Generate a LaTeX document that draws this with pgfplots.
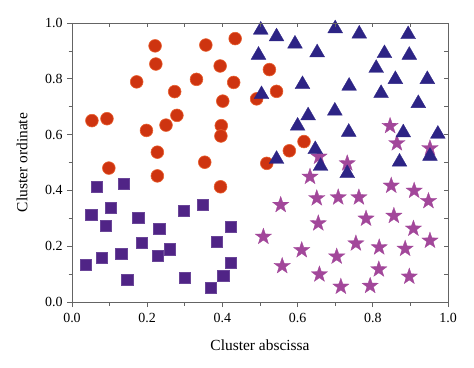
\documentclass[border=0pt]{standalone}
\usepackage{fontspec}
\setmainfont{Liberation Serif}
\usepackage{pgfplots}
\pgfplotsset{compat=1.18}
\definecolor{cred}{RGB}{206,52,16}
\definecolor{credrim}{RGB}{232,96,48}
\definecolor{ctri}{RGB}{45,36,133}
\definecolor{cstar}{RGB}{162,71,154}
\definecolor{csq}{RGB}{80,36,134}
\definecolor{caxis}{RGB}{100,100,100}
\pgfdeclareplotmark{fstar}{%
  \pgfpathmoveto{\pgfqpointpolar{90}{\pgfplotmarksize}}%
  \pgfpathlineto{\pgfqpointpolar{126}{0.40\pgfplotmarksize}}%
  \pgfpathlineto{\pgfqpointpolar{162}{\pgfplotmarksize}}%
  \pgfpathlineto{\pgfqpointpolar{198}{0.40\pgfplotmarksize}}%
  \pgfpathlineto{\pgfqpointpolar{234}{\pgfplotmarksize}}%
  \pgfpathlineto{\pgfqpointpolar{270}{0.40\pgfplotmarksize}}%
  \pgfpathlineto{\pgfqpointpolar{306}{\pgfplotmarksize}}%
  \pgfpathlineto{\pgfqpointpolar{342}{0.40\pgfplotmarksize}}%
  \pgfpathlineto{\pgfqpointpolar{18}{\pgfplotmarksize}}%
  \pgfpathlineto{\pgfqpointpolar{54}{0.40\pgfplotmarksize}}%
  \pgfpathclose
  \pgfusepathqfillstroke}
\begin{document}
\begin{tikzpicture}[x=1bp,y=1bp]
\useasboundingbox (-72,-65) rectangle (402,302);
\begin{axis}[
  at={(0,0)}, anchor=south west,
  scale only axis, width=376bp, height=279bp,
  xmin=0, xmax=1, ymin=0, ymax=1,
  xtick={0,0.2,...,1.0}, ytick={0,0.2,...,1.0},
  minor xtick={0.1,0.3,...,0.9}, minor ytick={0.1,0.3,...,0.9},
  xtick pos=bottom, ytick pos=left, tick align=outside,
  major tick length=5bp, minor tick length=3.5bp,
  axis line style={caxis, line width=0.9pt},
  every tick/.style={caxis, line width=0.8pt},
  xticklabel style={/pgf/number format/fixed, /pgf/number format/fixed zerofill, /pgf/number format/precision=1, font=\fontsize{14}{16}\selectfont, yshift=-3bp},
  yticklabel style={/pgf/number format/fixed, /pgf/number format/fixed zerofill, /pgf/number format/precision=1, font=\fontsize{14}{16}\selectfont, xshift=-1bp},
  /pgf/number format/assume math mode=true,
  xlabel={Cluster abscissa}, ylabel={Cluster ordinate},
  label style={font=\fontsize{15.5}{18}\selectfont},
  xlabel style={at={(axis description cs:0.5,-0.154)}, anchor=center},
  ylabel style={at={(axis description cs:-0.133,0.5)}, anchor=center},
  clip=false,
]
% squares
\addplot[only marks, mark=square*, mark size=5.6pt, mark options={fill=csq, draw=csq!85!white, line width=0.4pt}] coordinates {
(0.066,0.413) (0.137,0.425) (0.051,0.312) (0.102,0.338) (0.090,0.274)
(0.176,0.302) (0.296,0.327) (0.348,0.350) (0.232,0.263) (0.421,0.270)
(0.185,0.214) (0.384,0.216) (0.259,0.189) (0.131,0.173) (0.229,0.167)
(0.079,0.159) (0.036,0.133) (0.421,0.141) (0.147,0.079) (0.299,0.087)
(0.402,0.094) (0.368,0.051)
};
% circles
\addplot[only marks, mark=*, mark size=6.4pt, mark options={fill=cred, draw=credrim, line width=0.6pt}] coordinates {
(0.221,0.918) (0.356,0.921) (0.434,0.944) (0.223,0.853) (0.394,0.846)
(0.525,0.833) (0.172,0.789) (0.331,0.798) (0.430,0.787) (0.273,0.754)
(0.401,0.720) (0.491,0.728) (0.544,0.755) (0.053,0.650) (0.093,0.657)
(0.279,0.669) (0.198,0.615) (0.250,0.634) (0.397,0.632) (0.396,0.595)
(0.227,0.537) (0.098,0.480) (0.353,0.501) (0.227,0.452) (0.395,0.413)
(0.518,0.497) (0.578,0.542) (0.617,0.575)
};
% stars
\addplot[only marks, mark=fstar, mark size=8.6pt, mark options={fill=cstar, draw=cstar, line width=0.3pt}] coordinates {
(0.846,0.631) (0.864,0.569) (0.952,0.551) (0.657,0.521) (0.732,0.497)
(0.633,0.449) (0.849,0.417) (0.910,0.399) (0.948,0.362) (0.555,0.348)
(0.651,0.372) (0.708,0.375) (0.763,0.375) (0.782,0.299) (0.856,0.309)
(0.655,0.282) (0.908,0.263) (0.509,0.234) (0.952,0.220) (0.611,0.186)
(0.755,0.210) (0.817,0.196) (0.886,0.191) (0.704,0.163) (0.559,0.129)
(0.816,0.117) (0.658,0.099) (0.897,0.091) (0.715,0.055) (0.793,0.058)
};
% triangles
\addplot[only marks, mark=triangle*, mark size=8.6pt, mark options={fill=ctri, draw=ctri, line width=0.3pt}] coordinates {
(0.502,0.975) (0.544,0.951) (0.593,0.925) (0.700,0.980) (0.764,0.961)
(0.894,0.959) (0.496,0.885) (0.652,0.894) (0.831,0.891) (0.897,0.885)
(0.809,0.838) (0.860,0.798) (0.945,0.798) (0.613,0.780) (0.737,0.774)
(0.504,0.744) (0.822,0.748) (0.921,0.712) (0.699,0.685) (0.628,0.668)
(0.600,0.631) (0.736,0.609) (0.881,0.607) (0.973,0.602) (0.647,0.547)
(0.544,0.512) (0.661,0.487) (0.732,0.461) (0.871,0.502) (0.952,0.523)
};
\end{axis}
\begin{axis}[
  at={(0,0)}, anchor=south west,
  scale only axis, width=376bp, height=279bp,
  xmin=0, xmax=1, ymin=0, ymax=1,
  xtick={0,0.1,...,1.0}, ytick={0,0.1,...,1.0},
  xtick pos=top, ytick pos=right, tick align=inside,
  major tick length=4bp,
  xticklabels={}, yticklabels={},
  axis line style={caxis, line width=0.9pt},
  every tick/.style={caxis, line width=0.8pt},
]
\end{axis}
\end{tikzpicture}
\end{document}
